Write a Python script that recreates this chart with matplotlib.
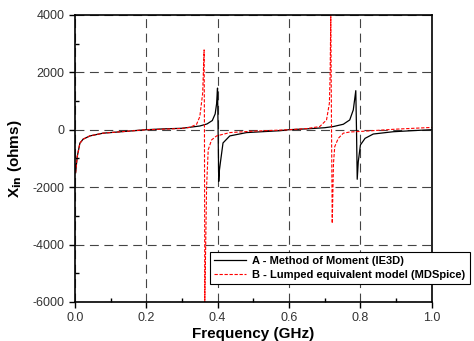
import numpy as np
import matplotlib
matplotlib.use('Agg')
import matplotlib.pyplot as plt

plt.rcParams['font.family'] = ['Liberation Sans', 'DejaVu Sans']
plt.rcParams['axes.unicode_minus'] = False

# A - Method of Moment (IE3D)
freq_a = [0.002, 0.0065, 0.014, 0.023, 0.042, 0.079, 0.135, 0.2, 0.25, 0.3, 0.35,
          0.37, 0.385, 0.393, 0.397, 0.3996, 0.401, 0.403, 0.405, 0.408, 0.415,
          0.434, 0.481, 0.574, 0.6, 0.65, 0.7, 0.724, 0.752, 0.77, 0.78, 0.787,
          0.789, 0.791, 0.794, 0.8, 0.813, 0.836, 0.892, 0.95, 1.0]
xin_a = [-1500, -940, -470, -330, -216, -120, -65, 0, 30, 50, 130,
         200, 320, 550, 900, 1450, 200, -1800, -1400, -1110, -460,
         -216, -100, -35, 0, 30, 70, 110, 190, 340, 690, 1360,
         0, -1726, -1110, -530, -300, -150, -70, -30, 0]

# B - Lumped equivalent model (MDSpice)
freq_b = [0.002, 0.0065, 0.014, 0.023, 0.042, 0.079, 0.135, 0.2, 0.25, 0.294, 0.322,
          0.341, 0.35, 0.358, 0.362, 0.363, 0.364, 0.369, 0.3735, 0.383, 0.397,
          0.434, 0.5, 0.6, 0.65, 0.686, 0.705, 0.713, 0.715, 0.717, 0.719, 0.721,
          0.7245, 0.728, 0.738, 0.752, 0.77, 0.8, 0.85, 0.9, 1.0]
xin_b = [-1500, -940, -470, -330, -216, -120, -65, 0, 20, 40, 80,
         190, 457, 1270, 2780, 0, -6000, -1980, -700, -355, -216,
         -100, -50, 0, 40, 110, 340, 920, 1850, 4000, 0, -3260,
         -1170, -590, -300, -120, -80, -60, -20, 20, 80]

fig = plt.figure(figsize=(4.74, 3.41), dpi=100)
ax = fig.add_axes([0.158, 0.1144, 0.753, 0.842])

ax.plot(freq_a, xin_a, '-', color='black', lw=0.9,
        label='A - Method of Moment (IE3D)')
ax.plot(freq_b, xin_b, '--', color='red', lw=0.8, dashes=(3, 1.5),
        label='B - Lumped equivalent model (MDSpice)')

ax.set_xlim(0, 1.0)
ax.set_ylim(-6000, 4000)
ax.set_xticks(np.arange(0, 1.01, 0.2))
ax.set_xticks(np.arange(0.1, 1.0, 0.2), minor=True)
ax.set_yticks(np.arange(-6000, 4001, 2000))
ax.set_yticks(np.arange(-5000, 4000, 2000), minor=True)
ax.set_xticklabels(['0.0', '0.2', '0.4', '0.6', '0.8', '1.0'])
ax.tick_params(which='major', direction='out', length=4, width=1, labelsize=9,
               labelcolor='#333333')
ax.tick_params(which='minor', direction='in', length=3, width=1)
for s in ax.spines.values():
    s.set_linewidth(1.2)

ax.grid(True, which='major', color='#444444', lw=0.8, linestyle=(0, (8, 5)))

ax.set_xlabel('Frequency (GHz)', fontsize=11, fontweight='bold', labelpad=2)
ax.set_ylabel('X$_{\\mathbf{in}}$ (ohms)', fontsize=11, fontweight='bold', labelpad=6)

leg = ax.legend(loc='lower left', bbox_to_anchor=(210 / 474, 1 - 284 / 341),
                bbox_transform=fig.transFigure, fontsize=8, frameon=True,
                fancybox=False, framealpha=1, edgecolor='black',
                borderpad=0.4, handlelength=2.8, labelspacing=0.3,
                handletextpad=0.6, borderaxespad=0)
leg.get_frame().set_linewidth(0.8)
for t in leg.get_texts():
    t.set_fontweight('bold')

fig.savefig('out.png', dpi=100)
